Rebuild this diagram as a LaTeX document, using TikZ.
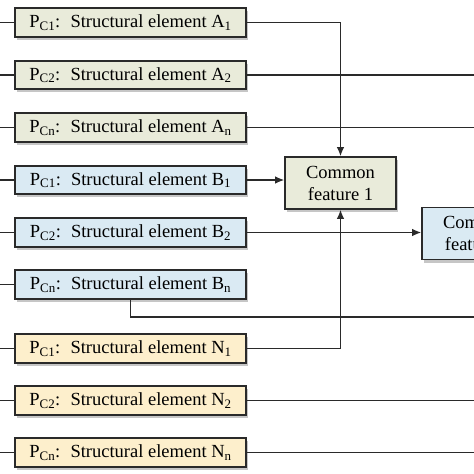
\documentclass[tikz,border=0pt]{standalone}
\usepackage{fontspec}
\setmainfont{Liberation Serif}
\usetikzlibrary{arrows.meta,shadows}

\definecolor{fillA}{HTML}{E9EBDA}
\definecolor{fillB}{HTML}{DAEAF3}
\definecolor{fillN}{HTML}{FDEFCC}
\definecolor{lineC}{HTML}{2A2A2A}

\tikzset{
	elem/.style={draw=lineC, line width=1.6pt, minimum width=231pt, minimum height=28.5pt,
		inner sep=0pt, font=\fontsize{18.5}{22}\selectfont,
		drop shadow={shadow xshift=2pt, shadow yshift=-3pt, opacity=.45}},
	feat/.style={elem, minimum width=111pt, minimum height=52pt, align=center},
	link/.style={draw=lineC, line width=1.3pt},
	tip/.style={-{Latex[length=9pt,width=7.5pt]}}
}

\begin{document}
\begin{tikzpicture}[x=1pt,y=-1pt]
	\useasboundingbox (0,0) rectangle (474,474);
	\clip (0,0) rectangle (474,474);
	\coordinate (lft) at (0,0);
	\coordinate (rim) at (474,0);
	% structural elements
	\foreach \nm/\y/\sb/\grp/\k in {a1/22.5/C1/A/1, a2/75/C2/A/2, an/127.5/Cn/A/n,
		b1/180/C1/B/1, b2/232.5/C2/B/2, bn/284.5/Cn/B/n,
		n1/348.5/C1/N/1, n2/400.5/C2/N/2, nn/452.5/Cn/N/n}
	{
		\node[elem, fill=fill\grp] (\nm) at (130.5,\y)
			{P\textsubscript{\sb}:\hspace{.55em}Structural element \grp\textsubscript{\k}};
		\draw[link] (\nm.west -| lft) -- (\nm.west);
	}
	% common features
	\node[feat, fill=fillA] (cf1) at (340.5,183) {Common\\feature 1};
	\node[feat, fill=fillB] (cf2) at (477.5,233.5) {Common\\feature 2};
	% connectors
	\draw[link, tip] (a1.east) -| (cf1.north);
	\draw[link, tip] (n1.east) -| (cf1.south);
	\draw[link, tip] (b1.east) -- (b1.east -| cf1.west);
	\draw[link, tip] (b2.east) -- (b2.east -| cf2.west);
	\foreach \nm in {a2,an,n2,nn}
		\draw[link] (\nm.east) -- (\nm.east -| rim);
	\draw[link] (bn.south) |- ([yshift=-32.5pt]bn.center -| rim);
\end{tikzpicture}
\end{document}
